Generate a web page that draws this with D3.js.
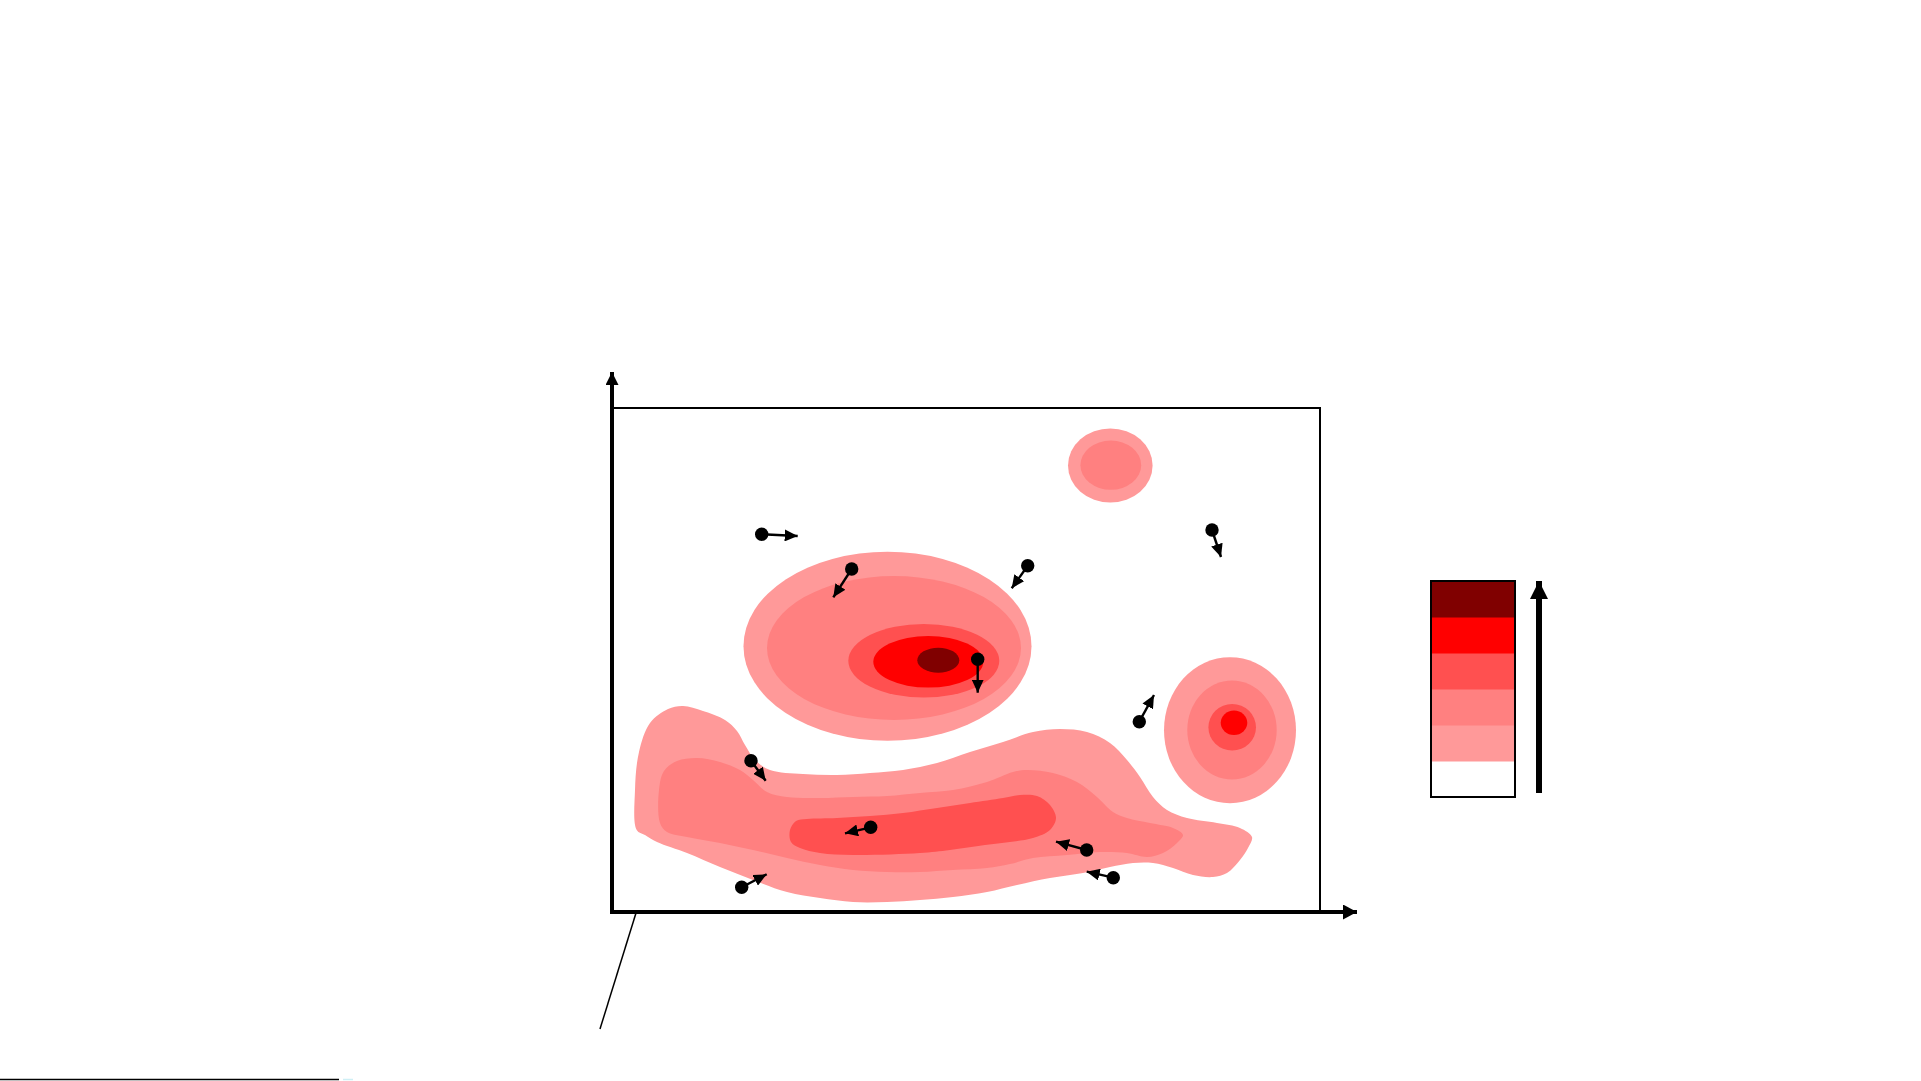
<!DOCTYPE html>
<html><head><meta charset="utf-8">
<script src="https://cdn.jsdelivr.net/npm/d3@7"></script>
<style>html,body{margin:0;padding:0;background:#fff;overflow:hidden}</style>
</head><body>
<svg id="c" width="1921" height="1081" xmlns="http://www.w3.org/2000/svg"></svg>
<script>
// ---- data (abstract units; x 0..707, y 0..504) ----
const levelColors = ["#ffffff", "#ff9999", "#ff8080", "#ff5050", "#ff0000", "#800000"];
const levels = [0, 1, 2, 3, 4, 5];

// irregular density band, outer contour (level 1)
const bandLevel1 = [[23.7,82],[22,122],[26,160],[37,189],[55,203],[70,206],[90,201],[112,192],[124,181],[132,167],[142,152],[157,142],[190,138],[224,137],[257,139],[290,142],[324,149],[357,160],[390,170],[420,180],[447,183],[474,180],[497,169],[514,152],[527,135],[540,115],[554,102],[574,94],[604,89],[627,84],[639,75],[635,64],[627,52],[614,39],[600,35],[580,37],[560,44],[540,49],[520,49],[497,45],[470,39],[437,34],[404,27],[374,20],[340,15],[307,12],[274,10],[240,10],[207,14],[174,20],[140,32],[107,45],[74,59],[44,70],[32,77]];
// level 2
const bandLevel2 = [[47,89],[46,122],[51,141],[64,151],[84,154],[107,150],[127,142],[140,132],[154,120],[174,115],[207,114],[240,115],[274,116],[307,119],[340,122],[374,130],[400,140],[414,142],[440,139],[464,130],[484,115],[500,100],[514,94],[537,89],[560,84],[570,77],[564,69],[550,59],[534,55],[514,59],[487,60],[454,57],[420,54],[397,48],[374,44],[340,42],[307,40],[274,40],[240,42],[207,47],[174,54],[140,62],[107,69],[74,75],[54,80]];
// level 3
const bandLevel3 = [[178,70],[177,82],[183,91],[194,93],[224,94],[257,96],[290,99],[324,104],[357,109],[390,114],[407,117],[424,116],[437,107],[443,94],[437,82],[420,74],[397,70],[372,67],[337,62],[307,59],[240,57],[207,59],[187,64]];

// elliptical contours: [level, cx, cy, rx, ry]
const ellipseContours = [
  [1, 274.5, 265.8, 144, 94.5],
  [2, 281, 264, 127, 72],
  [3, 310.8, 251.2, 75.5, 36.8],
  [4, 315.3, 250.2, 55, 25.8],
  [5, 325.3, 251.8, 21, 12.5],
  [1, 617, 181.8, 66, 73],
  [2, 619, 182, 44.7, 49.5],
  [3, 619.2, 184.7, 23.8, 23.3],
  [4, 621, 189.2, 13.3, 12.2],
  [1, 497.3, 446.5, 42.3, 37],
  [2, 497.8, 446.8, 30.4, 24.6]
];

// observed points and their movement vectors
const pointX = [148.7, 238.7, 414.7, 364.7, 526.3, 473.7, 500.3, 138, 257.7, 128.7, 599];
const pointY = [377.7, 343, 346.3, 252.7, 190.3, 62, 34.3, 151.3, 84.7, 24.7, 382];
const moveDX = [36, -18.4, -16, 0, 14.7, -30.7, -26.6, 14.7, -25.7, 25, 9];
const moveDY = [-1.7, -28.3, -22.6, -33.4, 26.7, 8.3, 6, -20, -6, 13, -27];

// ---- drawing ----
const svg = d3.select("#c");
svg.append("rect").attr("width", 1921).attr("height", 1081).attr("fill", "#fff");

const x = d3.scaleLinear().domain([0, 707]).range([613, 1320]);
const y = d3.scaleLinear().domain([0, 504]).range([912, 408]);

const defs = svg.append("defs");
function marker(id, len, wid) {
  defs.append("marker").attr("id", id).attr("viewBox", "0 0 10 10")
    .attr("refX", 10).attr("refY", 5).attr("markerUnits", "userSpaceOnUse")
    .attr("markerWidth", len).attr("markerHeight", wid).attr("orient", "auto")
    .attr("preserveAspectRatio", "none")
    .append("path").attr("d", "M0,0L10,5L0,10Z").attr("fill", "#000");
}
marker("head", 13, 12);
marker("xhead", 14, 15);
marker("yhead", 13, 13);
marker("leghead", 18, 18);

// frame
svg.append("rect").attr("x", x(0)).attr("y", y(504))
  .attr("width", x(707) - x(0)).attr("height", y(0) - y(504))
  .attr("fill", "none").attr("stroke", "#000").attr("stroke-width", 2);

// contour fills
const line = d3.line().x(d => x(d[0])).y(d => y(d[1])).curve(d3.curveCatmullRomClosed.alpha(0.5));
const bands = [[1, bandLevel1], [2, bandLevel2], [3, bandLevel3]];
svg.append("g").selectAll("path").data(bands).join("path")
  .attr("d", d => line(d[1])).attr("fill", d => levelColors[d[0]]);

svg.append("g").selectAll("ellipse").data(ellipseContours).join("ellipse")
  .attr("cx", d => x(d[1])).attr("cy", d => y(d[2]))
  .attr("rx", d => x(d[1] + d[3]) - x(d[1]))
  .attr("ry", d => y(d[2]) - y(d[2] + d[4]))
  .attr("fill", d => levelColors[d[0]]);

// axes
svg.append("line").attr("x1", x(0) - 1).attr("y1", y(0) + 2).attr("x2", x(0) - 1).attr("y2", 372)
  .attr("stroke", "#000").attr("stroke-width", 4).attr("marker-end", "url(#yhead)");
svg.append("line").attr("x1", x(0) - 3).attr("y1", y(0)).attr("x2", 1357).attr("y2", y(0))
  .attr("stroke", "#000").attr("stroke-width", 4).attr("marker-end", "url(#xhead)");

// points with movement arrows
const idx = d3.range(pointX.length);
const g = svg.append("g");
g.selectAll("line").data(idx).join("line")
  .attr("x1", i => x(pointX[i])).attr("y1", i => y(pointY[i]))
  .attr("x2", i => x(pointX[i] + moveDX[i])).attr("y2", i => y(pointY[i] + moveDY[i]))
  .attr("stroke", "#000").attr("stroke-width", 2.4).attr("marker-end", "url(#head)");
g.selectAll("circle").data(idx).join("circle")
  .attr("cx", i => x(pointX[i])).attr("cy", i => y(pointY[i])).attr("r", 6.7).attr("fill", "#000");

// leader line
svg.append("line").attr("x1", 636).attr("y1", 913).attr("x2", 600).attr("y2", 1029)
  .attr("stroke", "#000").attr("stroke-width", 1.5);
// bottom rule
svg.append("line").attr("x1", 0).attr("y1", 1079.5).attr("x2", 339).attr("y2", 1079.5)
  .attr("stroke", "#000").attr("stroke-width", 1.5);
svg.append("line").attr("x1", 343).attr("y1", 1079.5).attr("x2", 353).attr("y2", 1079.5)
  .attr("stroke", "#cfeff5").attr("stroke-width", 1.5);

// legend
const lg = d3.scaleBand().domain(levels).range([797, 581]);
svg.append("g").selectAll("rect").data(levels).join("rect")
  .attr("x", 1431).attr("y", d => lg(d)).attr("width", 84).attr("height", lg.bandwidth() + 0.5)
  .attr("fill", d => levelColors[d]);
svg.append("rect").attr("x", 1431).attr("y", 581).attr("width", 84).attr("height", 216)
  .attr("fill", "none").attr("stroke", "#000").attr("stroke-width", 2);
svg.append("line").attr("x1", 1539).attr("y1", 793).attr("x2", 1539).attr("y2", 581)
  .attr("stroke", "#000").attr("stroke-width", 6).attr("marker-end", "url(#leghead)");
</script>
</body></html>
